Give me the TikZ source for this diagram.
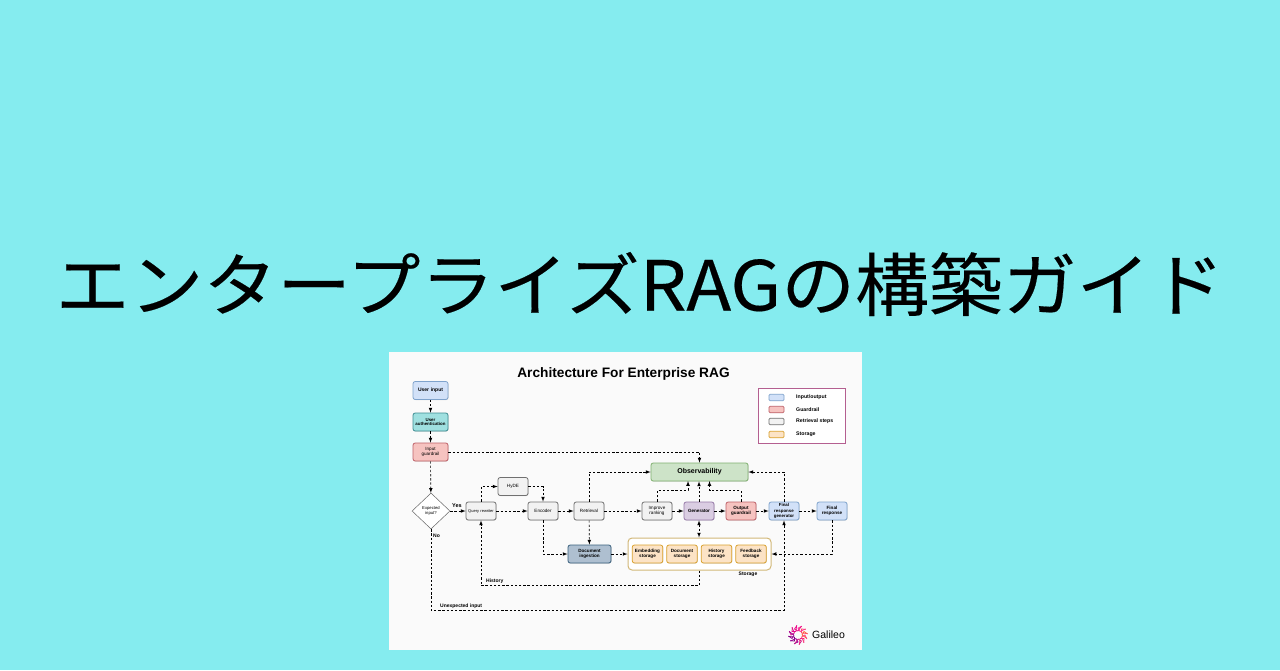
\documentclass[tikz,border=0pt]{standalone}
\usepackage{fontspec}
\setmainfont{Liberation Sans}
\newfontfamily\cjk[FakeBold=0.25]{Noto Sans CJK JP}
\usetikzlibrary{shapes.geometric,shadows}

\definecolor{pagebg}{HTML}{85ECEF}
\definecolor{panelbg}{HTML}{FAFAFA}
\definecolor{iofill}{HTML}{D2E1F8}
\definecolor{iodraw}{HTML}{7FA3CC}
\definecolor{authfill}{HTML}{9FE0E0}
\definecolor{authdraw}{HTML}{3E8C92}
\definecolor{guardfill}{HTML}{F6C3C0}
\definecolor{guarddraw}{HTML}{BE6068}
\definecolor{retrfill}{HTML}{F2F2F2}
\definecolor{retrdraw}{HTML}{707070}
\definecolor{ingfill}{HTML}{AEBFD0}
\definecolor{ingdraw}{HTML}{39607C}
\definecolor{genfill}{HTML}{DACDE2}
\definecolor{gendraw}{HTML}{9678A8}
\definecolor{obsfill}{HTML}{CDE3C8}
\definecolor{obsdraw}{HTML}{80B070}
\definecolor{storefill}{HTML}{FCE3C6}
\definecolor{storedraw}{HTML}{D9A02C}
\definecolor{groupdraw}{HTML}{D2B878}
\definecolor{legdraw}{HTML}{B45F90}

\tikzset{
  box/.style={draw, rounded corners=2.2pt, line width=0.8pt, minimum width=#1, minimum height=18pt,
    inner sep=0pt, align=center, text width=#1, font=\fontsize{4.6}{5.6}\selectfont,
    drop shadow={shadow xshift=0.5pt, shadow yshift=-0.5pt, opacity=0.3}},
  box/.default=30pt,
  swatch/.style={draw, rounded corners=1.2pt, line width=0.7pt, minimum width=15pt, minimum height=6.5pt, inner sep=0pt},
  legtext/.style={anchor=west, inner sep=0pt, font=\bfseries\fontsize{5.2}{6}\selectfont},
  tag/.style={inner sep=0pt, font=\bfseries\fontsize{5}{6}\selectfont},
  flow/.style={->, >=latex, line width=0.65pt, dash pattern=on 2.3pt off 1.9pt},
}

\begin{document}
\begin{tikzpicture}[x=1pt, y=-1pt]
    \useasboundingbox (0, 0) rectangle (1280, 670);
    \fill[pagebg] (0, 0) rectangle (1280, 670);

    \node[inner sep=0pt, xscale=1.07, font=\cjk\fontsize{69}{76}\selectfont] (heading) at (640, 284) {エンタープライズRAGの構築ガイド};

    \fill[panelbg] (389, 352) rectangle (862, 650);
    \node[inner sep=0pt, font=\bfseries\fontsize{13.7}{15}\selectfont] (title) at (623.5, 373.5) {Architecture For Enterprise RAG};

    % left column
    \node[box=35pt, fill=iofill, draw=iodraw, font=\bfseries\fontsize{5}{6}\selectfont] (input) at (430.5, 390.5) {User input};
    \node[box=35pt, fill=authfill, draw=authdraw, font=\bfseries\fontsize{4.4}{5}\selectfont] (auth) at (430.5, 422) {User\\authentication};
    \node[box=35pt, fill=guardfill, draw=guarddraw] (inguard) at (430.5, 452) {Input\\guardrail};
    \node[draw=black!60, fill=white, diamond, aspect=1.05, minimum width=38pt, minimum height=36pt, inner sep=0pt, line width=0.5pt, align=center, font=\fontsize{4.2}{5}\selectfont] (check) at (431, 511) {Expected\\input?};

    % retrieval row
    \node[box, fill=retrfill, draw=retrdraw, font=\fontsize{4}{5}\selectfont] (rewriter) at (481, 511) {Query rewriter};
    \node[box, fill=retrfill, draw=retrdraw] (hyde) at (513, 486.5) {HyDE};
    \node[box, fill=retrfill, draw=retrdraw] (encoder) at (543, 511) {Encoder};
    \node[box, fill=retrfill, draw=retrdraw] (retrieval) at (589, 511) {Retrieval};
    \node[box=43pt, fill=ingfill, draw=ingdraw, font=\bfseries\fontsize{4.6}{5.6}\selectfont] (ingestion) at (589.5, 554) {Document\\ingestion};
    \node[box, fill=retrfill, draw=retrdraw] (ranking) at (657, 511) {Improve\\ranking};
    \node[box, fill=genfill, draw=gendraw, font=\bfseries\fontsize{4.6}{5.6}\selectfont] (generator) at (699, 511) {Generator};
    \node[box, fill=guardfill, draw=guarddraw, font=\bfseries\fontsize{4.6}{5.6}\selectfont] (outguard) at (741, 511) {Output\\guardrail};
    \node[box, fill=iofill, draw=iodraw, font=\bfseries\fontsize{4.4}{5.2}\selectfont] (frgen) at (784, 511) {Final\\response\\generator};
    \node[box, fill=iofill, draw=iodraw, font=\bfseries\fontsize{4.6}{5.6}\selectfont] (final) at (832, 511) {Final\\response};

    \node[box=97pt, fill=obsfill, draw=obsdraw, font=\bfseries\fontsize{7}{8}\selectfont] (obs) at (699.5, 472) {Observability};

    % storage group
    \node[draw=groupdraw, fill=white, rounded corners=4pt, line width=1pt, minimum width=143pt, minimum height=32pt, inner sep=0pt] (storage) at (699.5, 554) {};
    \node[box=30.5pt, fill=storefill, draw=storedraw, font=\bfseries\fontsize{4.6}{5.6}\selectfont] (embstore) at (647.5, 554) {Embedding\\storage};
    \node[box=30.5pt, fill=storefill, draw=storedraw, font=\bfseries\fontsize{4.6}{5.6}\selectfont] (docstore) at (682, 554) {Document\\storage};
    \node[box=30.5pt, fill=storefill, draw=storedraw, font=\bfseries\fontsize{4.6}{5.6}\selectfont] (histstore) at (716.5, 554) {History\\storage};
    \node[box=30.5pt, fill=storefill, draw=storedraw, font=\bfseries\fontsize{4.6}{5.6}\selectfont] (feedstore) at (751, 554) {Feedback\\storage};
    \node[tag] (storelabel) at (748, 574.5) {Storage};

    % legend
    \node[draw=legdraw, fill=white, line width=0.9pt, minimum width=87pt, minimum height=55pt, inner sep=0pt] (legend) at (801.5, 415.5) {};
    \node[swatch, fill=iofill, draw=iodraw] (legio) at (776.5, 397.5) {};
    \node[swatch, fill=guardfill, draw=guarddraw] (legguard) at (776.5, 409.5) {};
    \node[swatch, fill=retrfill, draw=retrdraw] (legretr) at (776.5, 421.5) {};
    \node[swatch, fill=storefill, draw=storedraw] (legstore) at (776.5, 434.5) {};
    \node[legtext] at (796, 397.5) {Input/output};
    \node[legtext] at (796, 409.5) {Guardrail};
    \node[legtext] at (796, 421.5) {Retrieval steps};
    \node[legtext] at (796, 434.5) {Storage};

    % free ends on the observability box
    \coordinate (obsleft) at (688, 481);
    \coordinate (obsright) at (709.5, 481);

    \draw[flow] (input) to (auth);
    \draw[flow] (auth) to (inguard);
    \draw[flow] (inguard) to (check);
    \draw[flow] (inguard) -| (obs);
    \draw[flow] (check) to (rewriter);
    \draw[flow] (rewriter.north) |- (hyde);
    \draw[flow] (hyde) -| (encoder);
    \draw[flow] (rewriter) to (encoder);
    \draw[flow] (encoder) to (retrieval);
    \draw[flow] (encoder) |- (ingestion);
    \draw[flow] (retrieval) |- (obs);
    \draw[flow] (retrieval) to (ingestion);
    \draw[flow] (retrieval) to (ranking);
    \draw[flow] (ranking) to (generator);
    \draw[flow] (generator) to (outguard);
    \draw[flow] (outguard) to (frgen);
    \draw[flow] (frgen) to (final);
    \draw[flow] (ranking.north) -- ++(0, -11) -| (obsleft);
    \draw[flow] (generator) to (generator |- obs.south);
    \draw[flow] (outguard.north) -- ++(0, -11) -| (obsright);
    \draw[flow] (frgen) |- (obs);
    \draw[flow, <->] (generator) to (generator |- storage.north);
    \draw[flow] (final) |- (storage);
    \draw[flow] (ingestion) to (storage);
    \draw[flow] (storage.south) -- ++(0, 15) -| (rewriter.south);
    \draw[flow] (check.south) -- ++(0, 81) -| (frgen.south);

    \node[tag, anchor=west, font=\bfseries\fontsize{5.5}{6}\selectfont] (yeslabel) at (452, 506) {Yes};
    \node[tag, anchor=west] (nolabel) at (433, 536) {No};
    \node[tag, anchor=west] (histlabel) at (486, 581) {History};
    \node[tag, anchor=west] (unexp) at (440, 606) {Unexpected input};

    % logo
    \foreach \a/\c in {0/orange!80!magenta, 30/orange!60!magenta, 60/orange!40!magenta, 90/magenta!90!orange, 120/magenta, 150/magenta!80!violet, 180/violet!80!magenta, 210/violet, 240/violet!80!magenta, 270/magenta!70!violet, 300/magenta!80!orange, 330/orange!50!magenta} {
      \draw[\c, line width=0.8pt, rotate around={\a:(798, 635)}] (802, 635) -- (804, 631.5) -- (807.5, 634) (802, 635) -- (807, 638.5);
    }
    \node[anchor=west, inner sep=0pt, font=\fontsize{10.5}{12}\selectfont] (brand) at (812, 635) {Galileo};
\end{tikzpicture}
\end{document}
